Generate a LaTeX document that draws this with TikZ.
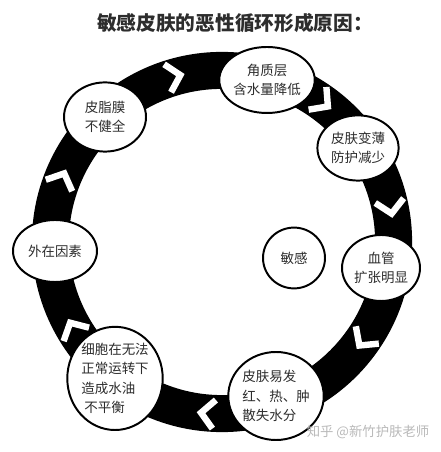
\documentclass[tikz,border=0pt]{standalone}
\usepackage{fontspec}
\newfontfamily\cjk{Noto Sans CJK SC}
\usepackage{tikz}
\usetikzlibrary{shapes.geometric}
\definecolor{textgray}{RGB}{45,45,45}
\definecolor{markgray}{RGB}{185,185,185}

\begin{document}
\begin{tikzpicture}[
  font=\cjk\fontsize{9.6}{13.8}\selectfont,
  bubble/.style={ellipse, draw=black, line width=1.4pt, fill=white, text=textgray,
                 inner sep=0pt, align=center},
  ring/.style={line width=0.925cm, black},
  chev/.style={white, line width=0.16cm, line join=miter}
]
\useasboundingbox (0,0) rectangle (11,11.3);

%% Title
\node[font=\cjk\bfseries\fontsize{14}{16}\selectfont, text=textgray] (title) at (5.875,10.72) {敏感皮肤的恶性循环形成原因：};

%% Ring
\coordinate (cen) at (5.55,5.25);
\draw[ring] (cen) circle (4.29cm);

%% Chevrons (clockwise)
\begin{scope}[shift={(cen)}]
\draw[chev, rotate=104]   (3.94,0.33) -- (4.3,0) -- (4.66,0.33);
\draw[chev, rotate=52]    (3.94,0.33) -- (4.3,0) -- (4.66,0.33);
\draw[chev, rotate=9.5]   (3.94,0.33) -- (4.3,0) -- (4.66,0.33);
\draw[chev, rotate=-37]   (3.94,0.33) -- (4.3,0) -- (4.66,0.33);
\draw[chev, rotate=-97]   (3.94,0.33) -- (4.3,0) -- (4.66,0.33);
\draw[chev, rotate=208]   (3.94,0.33) -- (4.3,0) -- (4.66,0.33);
\draw[chev, rotate=156.5] (3.94,0.33) -- (4.3,0) -- (4.66,0.33);
\end{scope}

%% Stages
\node[bubble, minimum width=2.0cm,  minimum height=1.65cm] (water)  at (6.675,9.3)  {角质层\\含水量降低};
\node[bubble, minimum width=2.03cm, minimum height=1.63cm] (thin)   at (8.95,7.6)   {皮肤变薄\\防护减少};
\node[bubble, minimum width=1.95cm, minimum height=1.65cm] (vessel) at (9.525,4.6)  {血管\\扩张明显};
\node[bubble, minimum width=2.08cm, minimum height=2.2cm, align=left] (red) at (6.9,1.4) {皮肤易发\\红、热、肿\\散失水分};
\node[bubble, minimum width=2.13cm, minimum height=2.58cm, align=left] (cell) at (2.875,1.84) {细胞在无法\\正常运转下\\造成水油\\\ 不平衡};
\node[bubble, minimum width=2.1cm,  minimum height=1.55cm] (outer)  at (1.375,5.025) {外在因素};
\node[bubble, minimum width=2.05cm, minimum height=1.73cm] (sebum)  at (2.625,8.375) {皮脂膜\\不健全};

%% Centre
\node[bubble, minimum width=1.55cm, minimum height=1.52cm] (sens) at (7.35,4.85) {敏感};

%% Watermark
\node[text=markgray, font=\cjk\fontsize{9.5}{11}\selectfont] (mark) at (9.2,0.5) {知乎 @新竹护肤老师};

\end{tikzpicture}
\end{document}
